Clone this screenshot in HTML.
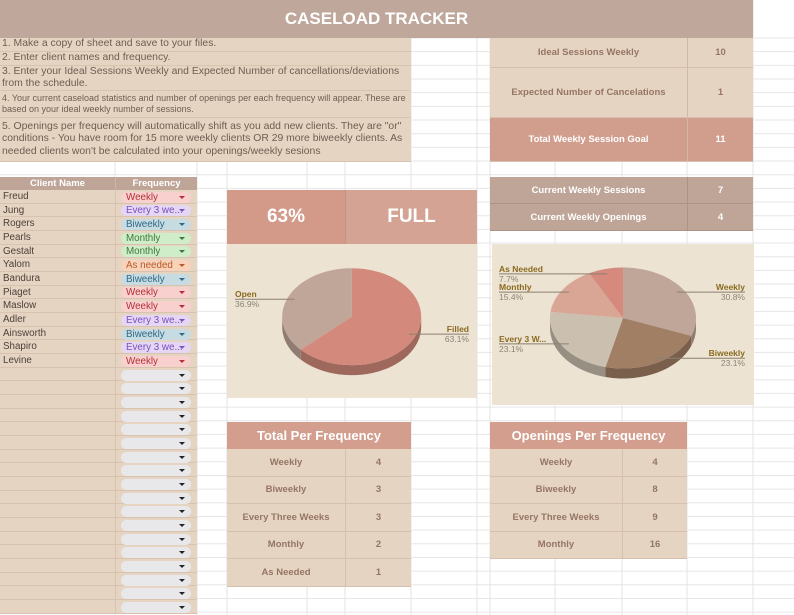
<!DOCTYPE html>
<html><head><meta charset="utf-8">
<style>
*{box-sizing:border-box;margin:0;padding:0}
body{width:794px;height:615px;overflow:hidden;background:#fff;font-family:"Liberation Sans",Arial,sans-serif;position:relative}
.abs{position:absolute}
.c{display:flex;align-items:center;justify-content:center;text-align:center}
.instr{left:0;width:411px;background:#e6d4c3;color:#6e5d50;font-size:10.4px;line-height:12.5px;padding:1px 2px;border-bottom:1px solid #d9c4b1;display:flex;align-items:center}
.bold{font-weight:bold}
.name{left:0;width:115px;height:13.7px;font-size:9.8px;color:#4a3f38;padding-left:3px;line-height:14.5px}
.chip{left:121px;width:70px;height:11px;border-radius:6px;font-size:9.8px;line-height:11px;padding-left:5px}
.chip:after{content:"";position:absolute;right:6px;top:4px;border-left:3px solid transparent;border-right:3px solid transparent;border-top:3px solid currentColor}
.lab{font-size:8.5px;font-weight:bold;fill:#8a6a1e}
.pct{font-size:8.5px;fill:#8c8478}
</style></head><body>
<svg class="abs" style="left:0;top:0" width="794" height="615" id="grid"></svg>

<div class="abs c bold" style="left:0;top:0;width:753px;height:38px;background:#bfa89b;color:#fff;font-size:17px">CASELOAD TRACKER</div>

<div class="abs instr" style="top:38px;height:14px">1. Make a copy of sheet and save to your files.</div>
<div class="abs instr" style="top:52px;height:14px">2. Enter client names and frequency.</div>
<div class="abs instr" style="top:66px;height:25px">3. Enter your Ideal Sessions Weekly and Expected Number of cancellations/deviations from the schedule.</div>
<div class="abs instr" style="top:91px;height:27px;font-size:9px;line-height:11.5px">4. Your current caseload statistics and number of openings per each frequency will appear. These are based on your ideal weekly number of sessions.</div>
<div class="abs instr" style="top:118px;height:44px">5. Openings per frequency will automatically shift as you add new clients. They are "or" conditions - You have room for 15 more weekly clients OR 29 more biweekly clients. As needed clients won't be calculated into your openings/weekly sesions</div>

<div id="settings"></div>

<div class="abs c bold" style="left:0;top:177px;width:115px;height:13px;background:#bfa597;color:#fff;font-size:9.5px">Client Name</div>
<div class="abs c bold" style="left:115px;top:177px;width:82px;height:13px;background:#bfa597;color:#fff;font-size:9.5px;border-left:1px solid #cdb6a8">Frequency</div>
<div id="clients"></div>

<div class="abs c bold" style="left:227px;top:190px;width:118px;height:54px;background:#d39a8a;color:#fff;font-size:19px">63%</div>
<div class="abs c bold" style="left:345px;top:190px;width:132px;height:54px;background:#d4a394;color:#fff;font-size:19px;border-left:1px solid #c8907f">FULL</div>

<svg class="abs" style="left:227px;top:244px;background:#ece3d3" width="250" height="154" id="pie1"></svg>
<svg class="abs" style="left:492px;top:244px;background:#ece3d3" width="262" height="161" id="pie2"></svg>

<div id="tables"></div>

<script>
// ---- data ----
const settingLabels=["Ideal Sessions Weekly","Expected Number of Cancelations","Total Weekly Session Goal"];
const settingValues=[10,1,11];
const currentLabels=["Current Weekly Sessions","Current Weekly Openings"];
const currentValues=[7,4];
const clientNames=["Freud","Jung","Rogers","Pearls","Gestalt","Yalom","Bandura","Piaget","Maslow","Adler","Ainsworth","Shapiro","Levine"];
const clientFreqs=["Weekly","Every 3 we...","Biweekly","Monthly","Monthly","As needed","Biweekly","Weekly","Weekly","Every 3 we...","Biweekly","Every 3 we...","Weekly"];
const totalLabels=["Weekly","Biweekly","Every Three Weeks","Monthly","As Needed"];
const totalValues=[4,3,3,2,1];
const openLabels=["Weekly","Biweekly","Every Three Weeks","Monthly"];
const openValues=[4,8,9,16];
const pie1Labels=["Filled","Open"];
const pie1Values=[63.1,36.9];
const pie2Labels=["Weekly","Biweekly","Every 3 W...","Monthly","As Needed"];
const pie2Values=[30.8,23.1,23.1,15.4,7.7];

const NS="http://www.w3.org/2000/svg";
function mk(tag,parent,attrs){const e=document.createElementNS(NS,tag);for(const k in attrs)e.setAttribute(k,attrs[k]);parent.appendChild(e);return e;}

// grid
const g=document.getElementById('grid');
const vx=[115,197,227,307,345,411,477,490,555,622,687,753];
vx.forEach(x=>{const l=mk('line',g,{x1:x,x2:x,y1:0,y2:615,stroke:'#e3e3e3','stroke-width':1});});
for(let y=38;y<615;y+=13.67){const l=mk('line',g,{x1:0,x2:794,y1:y,y2:y,stroke:'#e6e6e6','stroke-width':1});}

function div(parent,css,cls,text){const d=document.createElement('div');d.className='abs '+(cls||'');d.style.cssText=css;if(text!==undefined)d.textContent=text;parent.appendChild(d);return d;}

// settings box
const st=document.getElementById('settings');
const sRows=[[38,30],[68,50],[118,44]];
settingLabels.forEach((lab,i)=>{
  const last=i===2,bg=last?'#d19e8e':'#e6d4c3',col=last?'#fff':'#957564';
  const a=div(st,`left:490px;top:${sRows[i][0]}px;width:197px;height:${sRows[i][1]}px;background:${bg};color:${col};font-size:9.5px;border-bottom:1px solid #d6bfae`,'c bold',lab);
  
  const b=div(st,`left:687px;top:${sRows[i][0]}px;width:66px;height:${sRows[i][1]}px;background:${bg};color:${col};font-size:9.5px;border-left:1px solid #d0b8a6;border-bottom:1px solid #d6bfae`,'c bold',settingValues[i]);
  
});
currentLabels.forEach((lab,i)=>{
  const y=177+i*27;
  const a=div(st,`left:490px;top:${y}px;width:197px;height:27px;background:#bfa597;color:#fff;font-size:9.5px;border-bottom:1px solid #ae9384`,'c bold',lab);
  
  const b=div(st,`left:687px;top:${y}px;width:66px;height:27px;background:#bfa597;color:#fff;font-size:9.5px;border-left:1px solid #ae9384;border-bottom:1px solid #ae9384`,'c bold',currentValues[i]);
  
});

// clients
const chipStyle={"Weekly":["#f8d0cd","#b3303a"],"Every 3 we...":["#e5d6f4","#7a4fbf"],"Biweekly":["#c7dbe3","#2f6a85"],"Monthly":["#d0edc9","#3d7a3a"],"As needed":["#f8d2b9","#b65a2a"],"":["#e8e8eb","#222"]};
const cl=document.getElementById('clients');
for(let i=0;i<31;i++){
  const y=190+i*13.67;
  const bgRow=div(cl,`left:0;top:${y}px;width:197px;height:13.67px;background:#e6d4c3;border-bottom:1px solid #d8c3b1`);
  
  div(cl,`left:115px;top:${y}px;width:1px;height:13.67px;background:#d8c3b1`);
  const n=div(cl,`top:${y}px`,'name',clientNames[i]||'');
  
  const f=clientFreqs[i]||'';const cs=chipStyle[f];
  const c=div(cl,`top:${y+1.8}px;background:${cs[0]};color:${cs[1]}`,'chip',f);
  
}

// tables
const tb=document.getElementById('tables');
function table(x,w,dx,title,labels,values,name){
  const h=div(tb,`left:${x}px;top:422px;width:${w}px;height:27px;background:#d39e8e;color:#fff;font-size:13px`,'c bold',title);
  
  labels.forEach((lab,i)=>{
    const y=449+i*27.5;
    const a=div(tb,`left:${x}px;top:${y}px;width:${dx}px;height:27.5px;background:#e6d4c3;color:#957564;font-size:9.5px;border-bottom:1px solid #d6bfae`,'c bold',lab);
    
    const b=div(tb,`left:${x+dx}px;top:${y}px;width:${w-dx}px;height:27.5px;background:#e6d4c3;color:#957564;font-size:9.5px;border-left:1px solid #d6bfae;border-bottom:1px solid #d6bfae`,'c bold',values[i]);
    
  });
}
table(227,184,118,"Total Per Frequency",totalLabels,totalValues,'total-per-frequency');
table(490,197,132,"Openings Per Frequency",openLabels,openValues,'openings-per-frequency');

// pies
function shade(hex,f){const n=parseInt(hex.slice(1),16);const r=Math.round((n>>16)*f),gg=Math.round(((n>>8)&255)*f),b=Math.round((n&255)*f);return `rgb(${r},${gg},${b})`;}
function pie(svg,labels,values,colors,cx,cy,rx,ry,depth,leftX,rightX,name){
  const total=values.reduce((a,b)=>a+b,0);
  const P=(t,dy)=>[cx+rx*Math.sin(t),cy-ry*Math.cos(t)+(dy||0)];
  let a0=0;const sl=[];
  values.forEach((v,i)=>{const a1=a0+v/total*2*Math.PI;sl.push([a0,a1]);a0=a1;});
  sl.forEach(([s,e],i)=>{
    const lo=Math.max(s,Math.PI/2),hi=Math.min(e,Math.PI*1.5);
    if(hi<=lo)return;
    let pts=[];const N=30;
    for(let k=0;k<=N;k++){pts.push(P(lo+(hi-lo)*k/N));}
    for(let k=N;k>=0;k--){pts.push(P(lo+(hi-lo)*k/N,depth));}
    const p=mk('polygon',svg,{points:pts.map(q=>q.join(',')).join(' '),fill:shade(colors[i],0.75)});
    
  });
  sl.forEach(([s,e],i)=>{
    let d=`M${cx},${cy}`;const N=40;
    for(let k=0;k<=N;k++){const q=P(s+(e-s)*k/N);d+=`L${q[0]},${q[1]}`;}
    d+='Z';
    const p=mk('path',svg,{d:d,fill:colors[i]});
    
    
  });
  sl.forEach(([s,e],i)=>{
    const m=(s+e)/2;const q=[cx+0.9*rx*Math.sin(m),cy-0.9*ry*Math.cos(m)];
    const right=Math.sin(m)>0;const ex=right?rightX:leftX;
    const l=mk('line',svg,{x1:q[0],y1:q[1],x2:ex,y2:q[1],stroke:'#8c8070','stroke-width':1});
    
    const anchor=right?'end':'start';
    const t=mk('text',svg,{x:ex,y:q[1]-2,'text-anchor':anchor,class:'lab'});t.textContent=labels[i];
    
    const t2=mk('text',svg,{x:ex,y:q[1]+8,'text-anchor':anchor,class:'pct'});t2.textContent=values[i].toFixed(1)+'%';
    
  });
}
pie(document.getElementById('pie1'),pie1Labels,pie1Values,['#d38a7c','#bfa699'],124.7,72.7,69.5,48.5,10,8,242,'filled-open-pie');
pie(document.getElementById('pie2'),pie2Labels,pie2Values,['#bfa699','#a17f65','#cbbfaf','#d9a696','#d58a7d'],131,74,73,50.5,10,7,253,'frequency-pie');
</script>
</body></html>
